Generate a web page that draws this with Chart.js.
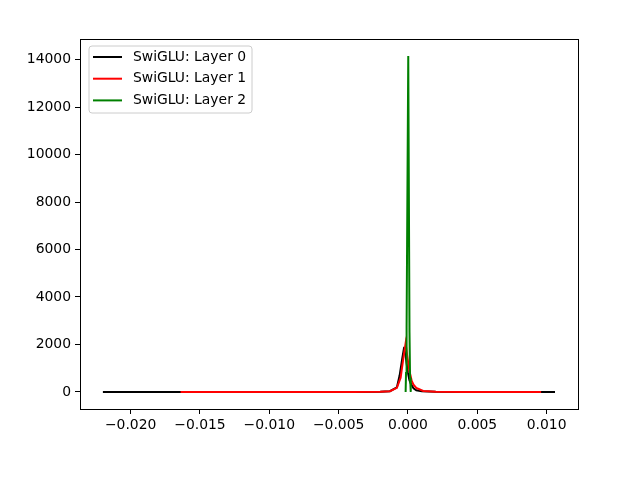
<!DOCTYPE html>
<html>
<head>
<meta charset="utf-8">
<script src="https://cdn.jsdelivr.net/npm/chart.js@4.4.1/dist/chart.umd.min.js"></script>
<style>
  body { margin: 0; background: #fff; }
  canvas { display: block; }
</style>
</head>
<body>
<canvas id="chart" width="640" height="480"></canvas>
<script>
// values
const layer0X = [-0.022, -0.004, -0.002, -0.0013, -0.0008, -0.0006, -0.0004, -0.0003, -0.0002, -0.0001, 0.0, 0.0001, 0.0002, 0.0004, 0.0006, 0.001, 0.002, 0.004, 0.0106];
const layer0Y = [0, 0, 5, 30, 190, 700, 1450, 1800, 1700, 1200, 800, 500, 350, 150, 70, 25, 5, 0, 0];

const layer1X = [-0.0164, -0.004, -0.002, -0.0013, -0.0008, -0.00053, -0.00034, -0.00017, -0.00005, 0.0001, 0.00027, 0.0004, 0.0006, 0.0011, 0.002, 0.004, 0.0096];
const layer1Y = [0, 0, 5, 30, 170, 600, 1390, 2050, 1500, 900, 460, 300, 170, 40, 10, 0, 0];

const layer2X = [-0.00017, -0.00014, -0.0001, 0.00002, 0.00011, 0.00015, 0.0002];
const layer2Y = [0, 800, 2700, 14150, 2500, 600, 0];

const seriesNames = ["SwiGLU: Layer 0", "SwiGLU: Layer 1", "SwiGLU: Layer 2"];
const seriesColors = ["#000000", "#ff0000", "#008000"];

const xTicks = [-0.020, -0.015, -0.010, -0.005, 0.000, 0.005, 0.010];
const yTicks = [0, 2000, 4000, 6000, 8000, 10000, 12000, 14000];

function toPoints(xs, ys) {
    return xs.map((x, i) => ({ x: x, y: ys[i] }));
}

const allSeries = [[layer0X, layer0Y], [layer1X, layer1Y], [layer2X, layer2Y]];

// frame round the plot + matplotlib style legend
const framePlugin = {
    id: "frame",
    afterDraw(chart) {
        const ctx = chart.ctx;
        const a = chart.chartArea;
        ctx.save();
        ctx.strokeStyle = "#000";
        ctx.lineWidth = 1;
        ctx.strokeRect(Math.round(a.left) + 0.5, Math.round(a.top) + 0.5,
            Math.round(a.right - a.left), Math.round(a.bottom - a.top));

        // legend
        const bx = a.left + 9, by = a.top + 7, bw = 163, bh = 67, r = 3;
        ctx.beginPath();
        ctx.moveTo(bx + r, by);
        ctx.arcTo(bx + bw, by, bx + bw, by + bh, r);
        ctx.arcTo(bx + bw, by + bh, bx, by + bh, r);
        ctx.arcTo(bx, by + bh, bx, by, r);
        ctx.arcTo(bx, by, bx + bw, by, r);
        ctx.closePath();
        ctx.fillStyle = "rgba(255,255,255,0.8)";
        ctx.fill();
        ctx.strokeStyle = "#cccccc";
        ctx.stroke();

        ctx.font = "13.9px 'DejaVu Sans'";
        ctx.textBaseline = "middle";
        ctx.textAlign = "left";
        chart.data.datasets.forEach((ds, i) => {
            const yy = by + 11 + i * 21.7;
            ctx.strokeStyle = ds.borderColor;
            ctx.lineWidth = 2;
            ctx.beginPath();
            ctx.moveTo(bx + 4, yy);
            ctx.lineTo(bx + 33, yy);
            ctx.stroke();
            ctx.fillStyle = "#000";
            ctx.fillText(ds.label, bx + 44, yy);
        });
        ctx.restore();
    }
};

function fmtX(v) {
    const s = Math.abs(v).toFixed(3);
    return (v < -1e-9 ? "\u2212" : "") + s;
}

const ctx = document.getElementById("chart").getContext("2d");
new Chart(ctx, {
    type: "scatter",
    data: {
        datasets: allSeries.map((s, i) => ({
            label: seriesNames[i],
            data: toPoints(s[0], s[1]),
            showLine: true,
            borderColor: seriesColors[i],
            backgroundColor: seriesColors[i],
            borderWidth: 2,
            pointRadius: 0,
            tension: 0,
            order: 2 - i, // later series on top, like matplotlib
        })),
    },
    options: {
        responsive: false,
        animation: false,
        layout: { padding: { top: 39, right: 62, left: 0, bottom: 0 } },
        plugins: {
            legend: { display: false },
            tooltip: { enabled: false },
        },
        scales: {
            x: {
                type: "linear",
                min: -0.02365,
                max: 0.01226,
                afterBuildTicks: (scale) => { scale.ticks = xTicks.map(v => ({ value: v })); },
                afterFit: (scale) => { scale.height = 71; },
                grid: { drawOnChartArea: false, drawTicks: true, tickLength: 5, tickColor: "#000" },
                border: { display: false },
                ticks: {
                    color: "#000",
                    font: { family: "'DejaVu Sans'", size: 13.9 },
                    padding: 3,
                    maxRotation: 0,
                    callback: (v) => fmtX(v),
                },
            },
            y: {
                type: "linear",
                min: -720,
                max: 14870,
                afterBuildTicks: (scale) => { scale.ticks = yTicks.map(v => ({ value: v })); },
                afterFit: (scale) => { scale.width = 80; },
                grid: { drawOnChartArea: false, drawTicks: true, tickLength: 5, tickColor: "#000" },
                border: { display: false },
                ticks: {
                    color: "#000",
                    font: { family: "'DejaVu Sans'", size: 13.9 },
                    padding: 4,
                    callback: (v) => String(v),
                },
            },
        },
    },
    plugins: [framePlugin],
});
</script>
</body>
</html>
